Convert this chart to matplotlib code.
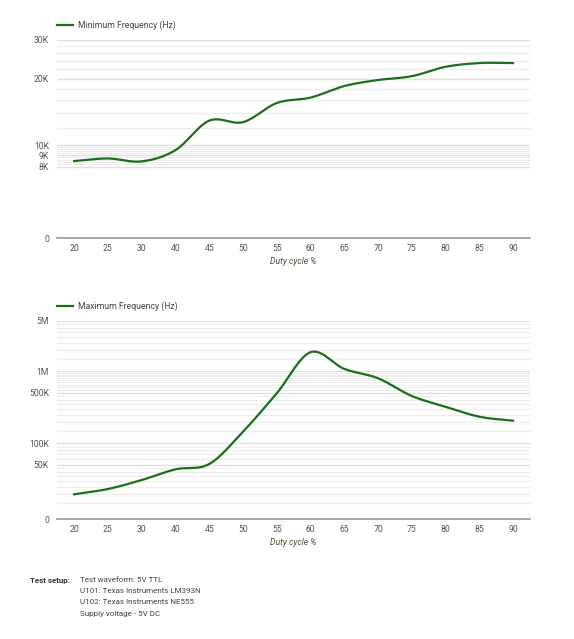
import numpy as np
import matplotlib
matplotlib.use('Agg')
import matplotlib.pyplot as plt
from matplotlib.ticker import FixedLocator, NullLocator

plt.rcParams['font.family'] = ['Roboto', 'DejaVu Sans']

# data
duty_cycle = ['20', '25', '30', '40', '45', '50', '55', '60', '65', '70', '75', '80', '85', '90']
min_freq = [8470, 8700, 8440, 9490, 12900, 12700, 15500, 16400, 18500, 19700, 20500, 22600, 23500, 23500]
max_freq = [19600, 23200, 30900, 43500, 51600, 145000, 495000, 1840000, 1080000, 800000, 454000, 322000, 234000, 206000]

min_ticks = [8000, 9000, 10000, 20000, 30000]
min_labels = ['8K', '9K', '10K', '20K', '30K']
max_ticks = [50000, 100000, 500000, 1000000, 5000000]
max_labels = ['50K', '100K', '500K', '1M', '5M']

setup_lines = ['Test waveform: 5V TTL', 'U101: Texas Instruments LM393N',
               'U102: Texas Instruments NE555', 'Supply voltage - 5V DC']

line_color = '#1b6e1f'
grid_color = '#e0e0e0'
text_color = '#555555'
fs = 6.2


def smooth(y, n=30, k=0.5):
    # cardinal spline through the points in (index, log) space, like curveType 'function'
    y = np.log10(np.asarray(y, dtype=float))
    x = np.arange(len(y), dtype=float)
    xs, ys = [], []
    for i in range(len(y) - 1):
        y0 = y[i - 1] if i > 0 else y[i]
        y3 = y[i + 2] if i + 2 < len(y) else y[i + 1]
        m1 = k * (y[i + 1] - y0) / (2 if i > 0 else 1)
        m2 = k * (y3 - y[i]) / (2 if i + 2 < len(y) else 1)
        t = np.linspace(0, 1, n)
        h00 = 2 * t**3 - 3 * t**2 + 1
        h10 = t**3 - 2 * t**2 + t
        h01 = -2 * t**3 + 3 * t**2
        h11 = t**3 - t**2
        xs.append(x[i] + t)
        ys.append(h00 * y[i] + h10 * m1 * 2 + h01 * y[i + 1] + h11 * m2 * 2)
    return np.concatenate(xs), 10 ** np.concatenate(ys)


def draw(ax, values, ticks, labels, bottom, top, minor, legend):
    ax.set_yscale('log')
    ax.set_ylim(bottom, top)
    ax.set_xlim(-0.5, len(duty_cycle) - 0.5)
    for v in minor:
        ax.axhline(v, color='#ececec', lw=0.8, zorder=0)
    for v in ticks:
        ax.axhline(v, color=grid_color, lw=1.0, zorder=0)
    ax.axhline(bottom, color='#999999', lw=1.2, zorder=1, clip_on=False)
    xs, ys = smooth(values)
    ax.plot(xs, ys, color=line_color, lw=1.6, zorder=3)
    ax.yaxis.set_major_locator(FixedLocator([bottom] + ticks))
    ax.yaxis.set_minor_locator(NullLocator())
    ax.set_yticklabels(['0'] + labels)
    ax.set_xticks(range(len(duty_cycle)))
    ax.set_xticklabels(duty_cycle)
    ax.tick_params(axis='x', length=0, labelsize=fs, colors=text_color, pad=4)
    ax.tick_params(axis='y', length=0, labelsize=fs, colors=text_color, pad=6)
    for s in ax.spines.values():
        s.set_visible(False)
    ax.set_xlabel('Duty cycle %', fontsize=fs, style='italic', color='#5a4a3a', labelpad=3)
    ax.plot([0.0, 0.033], [1.073, 1.073], transform=ax.transAxes, color=line_color, lw=1.6,
            clip_on=False)
    ax.text(0.043, 1.073, legend, transform=ax.transAxes, fontsize=fs, color='#444444',
            va='center')


fig = plt.figure(figsize=(5.74, 6.39), dpi=100)
ax1 = fig.add_axes([0.0998, 0.6275, 0.8235, 0.3105])
ax2 = fig.add_axes([0.0998, 0.1873, 0.8235, 0.3104])

minor1 = list(range(8200, 10000, 200)) + list(range(12000, 30000, 2000))
minor2 = (list(range(15000, 50000, 5000)) + list(range(60000, 100000, 10000))
          + list(range(150000, 500000, 50000)) + list(range(550000, 1000000, 50000))
          + list(range(1500000, 5000000, 500000)))

draw(ax1, min_freq, min_ticks, min_labels, 3800, 30000, minor1, 'Minimum Frequency (Hz)')
draw(ax2, max_freq, max_ticks, max_labels, 8800, 5000000, minor2, 'Maximum Frequency (Hz)')

fig.text(30 / 574, 1 - 580 / 639, 'Test setup:', fontsize=5.7, fontweight='bold',
         color='#333333', va='center')
for i, line in enumerate(setup_lines):
    fig.text(80 / 574, 1 - (580 + i * 11.2) / 639, line, fontsize=5.8, color='#444444',
             va='center')

fig.savefig('out.png', dpi=100)
